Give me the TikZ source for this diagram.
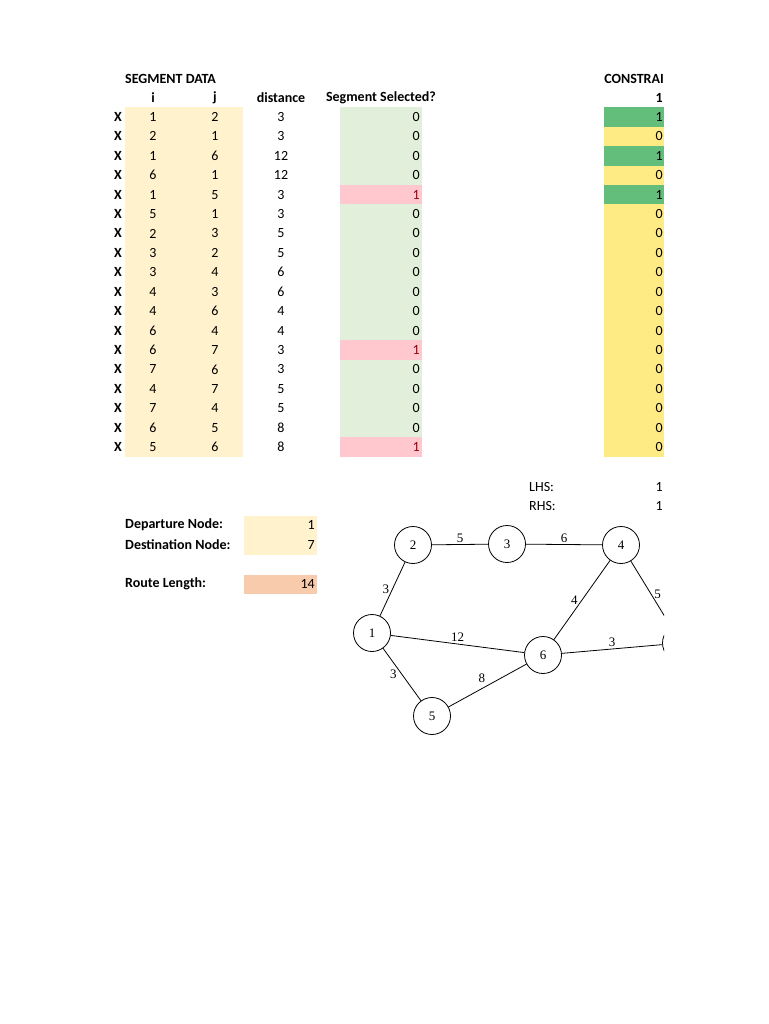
\documentclass[tikz,border=0pt]{standalone}
\usepackage{fontspec}
\setmainfont{Carlito}
\newfontfamily\gf{Liberation Serif}
\definecolor{beige}{HTML}{FFF2CC}
\definecolor{lgreen}{HTML}{E2EFDA}
\definecolor{pinkc}{HTML}{FFC7CE}
\definecolor{redt}{HTML}{9C0006}
\definecolor{dgreen}{HTML}{63BE7B}
\definecolor{yel}{HTML}{FFEB84}
\definecolor{salmon}{HTML}{F8CBAD}
\begin{document}
\begin{tikzpicture}[x=1pt,y=-1pt,
  t/.style={font=\fontsize{14}{16}\selectfont,inner sep=0pt},
  b/.style={t,font=\fontsize{14}{16}\selectfont\bfseries},
  gn/.style={circle,draw,thick,minimum size=37pt,inner sep=0pt,font=\gf\fontsize{13}{15}\selectfont},
  el/.style={font=\gf\fontsize{13}{15}\selectfont,inner sep=1pt},
  ed/.style={thick}]
\useasboundingbox[fill=white] (0,0) rectangle (768,1024);
\fill[beige] (125,107.5) rectangle (243,457);
\node[b,anchor=west] (title) at (125,79) {SEGMENT DATA};
\node[b] (hi) at (153,98) {i};
\node[b] (hj) at (215,98) {j};
\node[b] (hd) at (281,98) {distance};
\node[b] (hs) at (381,98) {Segment Selected?};
\node[b,anchor=east] (hc) at (664,79) {CONSTRAI};
\node[b,anchor=east] (hc1) at (663,98) {1};
\foreach \r/\i/\j/\d/\s/\c [count=\n from 0] in {
 1/1/2/3/0/1, 2/2/1/3/0/0, 3/1/6/12/0/1, 4/6/1/12/0/0, 5/1/5/3/1/1, 6/5/1/3/0/0,
 7/2/3/5/0/0, 8/3/2/5/0/0, 9/3/4/6/0/0, 10/4/3/6/0/0, 11/4/6/4/0/0, 12/6/4/4/0/0,
 13/6/7/3/1/0, 14/7/6/3/0/0, 15/4/7/5/0/0, 16/7/4/5/0/0, 17/6/5/8/0/0, 18/5/6/8/1/0}{
  \pgfmathsetmacro\yy{117+\n*19.41}
  \ifnum\s=1 \fill[pinkc] (340,\yy-9.7) rectangle (422,\yy+9.7);
    \node[t,anchor=east,text=redt] (s\r) at (420,\yy) {\s};
  \else \fill[lgreen] (340,\yy-9.7) rectangle (422,\yy+9.7);
    \node[t,anchor=east] (s\r) at (420,\yy) {\s};\fi
  \ifnum\c=1 \fill[dgreen] (604,\yy-9.7) rectangle (664,\yy+9.7);
  \else \fill[yel] (604,\yy-9.7) rectangle (664,\yy+9.7);\fi
  \node[t,anchor=east] (c\r) at (663,\yy) {\c};
  \node[b] (x\r) at (118,\yy) {X};
  \node[t] (i\r) at (153,\yy) {\i};
  \node[t] (j\r) at (215,\yy) {\j};
  \node[t] (d\r) at (281,\yy) {\d};
}
\node[t,anchor=west] (lhs) at (529,487) {LHS:};
\node[t,anchor=east] (lhsv) at (663,487) {1};
\node[t,anchor=west] (rhs) at (529,506) {RHS:};
\node[t,anchor=east] (rhsv) at (663,506) {1};
\fill[beige] (244,515.5) rectangle (317,554.5);
\fill[salmon] (244,574.5) rectangle (317,593.5);
\node[b,anchor=west] (dep) at (125,525) {Departure Node:};
\node[t,anchor=east] (depv) at (315,525) {1};
\node[b,anchor=west] (dst) at (125,545) {Destination Node:};
\node[t,anchor=east] (dstv) at (315,545) {7};
\node[b,anchor=west] (rl) at (125,584) {Route Length:};
\node[t,anchor=east] (rlv) at (315,584) {14};
\begin{scope}
\clip (330,500) rectangle (664,760);
\node[gn] (n2) at (413,545) {2};
\node[gn] (n3) at (507,544) {3};
\node[gn] (n4) at (621,545) {4};
\node[gn] (n1) at (372,633) {1};
\node[gn] (n6) at (543,655) {6};
\node[gn] (n5) at (432,716) {5};
\node[gn] (n7) at (681,643) {7};
\draw[ed] (n2) -- node[el,above] {5} (n3);
\draw[ed] (n3) -- node[el,above] {6} (n4);
\draw[ed] (n1) -- node[el,left=2pt] {3} (n2);
\draw[ed] (n6) -- node[el,left=3pt] {4} (n4);
\draw[ed] (n4) -- node[el,right=2pt] {5} (n7);
\draw[ed] (n1) -- node[el,above=1pt] {12} (n6);
\draw[ed] (n6) -- node[el,above=1pt] {3} (n7);
\draw[ed] (n1) -- node[el,left=4pt] {3} (n5);
\draw[ed] (n5) -- node[el,above left=1pt] {8} (n6);
\end{scope}
\end{tikzpicture}
\end{document}
